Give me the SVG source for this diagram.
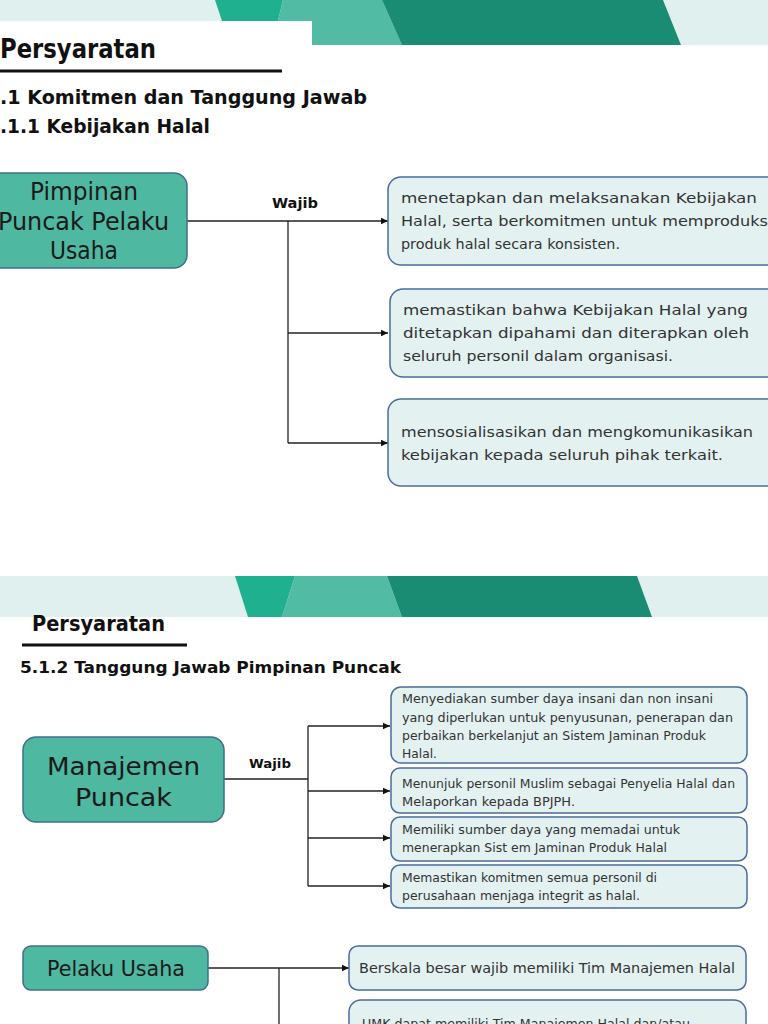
<svg xmlns="http://www.w3.org/2000/svg" width="768" height="1024" viewBox="0 0 768 1024">
<style>
.band{fill:#E0F0EE}
.t1{fill:#1FB08F}
.t2{fill:#52BBA3}
.t3{fill:#1A8C74}
.title{font-family:"DejaVu Sans","Liberation Sans",sans-serif;font-weight:bold;fill:#111}
.node rect{fill:#4EB8A0;stroke:#3F6F8C;stroke-width:1.5}
.node text{font-family:"DejaVu Sans","Liberation Sans",sans-serif;fill:#1a1a1a;text-anchor:start}
.box rect{fill:#E3F1F1;stroke:#4A6C9C;stroke-width:1.5}
.box text{font-family:"DejaVu Sans","Liberation Sans",sans-serif;fill:#333}
.lbl{font-family:"DejaVu Sans","Liberation Sans",sans-serif;font-weight:bold;fill:#111}
.conn path{fill:none;stroke:#222;stroke-width:1.3}
</style>
<defs>
<marker id="ah" markerWidth="8" markerHeight="8" refX="7" refY="4" orient="auto" markerUnits="userSpaceOnUse">
<path d="M0,0.8 L7,4 L0,7.2 Z" fill="#111"/>
</marker>
</defs>
<rect x="0" y="0" width="768" height="1024" fill="#fff"/>

<!-- slide 1 banner -->
<g id="banner1">
<rect class="band" x="0" y="0" width="768" height="45"/>
<polygon class="t1" points="215,0 283,0 272,45 230,45"/>
<polygon class="t2" points="283,0 382,0 402,45 272,45"/>
<polygon class="t3" points="382,0 663,0 681,45 402,45"/>
<rect x="0" y="21" width="312" height="26" fill="#fff"/>
</g>

<g id="heading1">
<text class="title" x="0" y="58" font-size="27" textLength="156" lengthAdjust="spacingAndGlyphs">Persyaratan</text>
<rect x="0" y="69.5" width="282" height="3" fill="#111"/>
<text class="title" x="0" y="104" font-size="19" textLength="367" lengthAdjust="spacingAndGlyphs">.1 Komitmen dan Tanggung Jawab</text>
<text class="title" x="0" y="133" font-size="19" textLength="210" lengthAdjust="spacingAndGlyphs">.1.1 Kebijakan Halal</text>
</g>

<g class="conn" id="connectors1">
<path d="M187,221 H288 M288,221 V443"/>
<path d="M288,221 H388" marker-end="url(#ah)"/>
<path d="M288,333 H388" marker-end="url(#ah)"/>
<path d="M288,443 H388" marker-end="url(#ah)"/>
</g>
<text class="lbl" x="272" y="208" font-size="14" textLength="46" lengthAdjust="spacingAndGlyphs">Wajib</text>

<g class="node" id="pimpinan">
<rect x="-12" y="173" width="199" height="95" rx="13"/>
<text x="30" y="200" font-size="24" textLength="108" lengthAdjust="spacingAndGlyphs">Pimpinan</text>
<text x="-2" y="230" font-size="24" textLength="171" lengthAdjust="spacingAndGlyphs">Puncak Pelaku</text>
<text x="50" y="259" font-size="24" textLength="68" lengthAdjust="spacingAndGlyphs">Usaha</text>
</g>

<g class="box" id="b1">
<rect x="388" y="177" width="400" height="88" rx="13"/>
<text x="401" y="203" font-size="14.5" textLength="356" lengthAdjust="spacingAndGlyphs">menetapkan dan melaksanakan Kebijakan</text>
<text x="401" y="226" font-size="14.5" textLength="367" lengthAdjust="spacingAndGlyphs">Halal, serta berkomitmen untuk memproduks</text>
<text x="401" y="249" font-size="14.5" textLength="219" lengthAdjust="spacingAndGlyphs">produk halal secara konsisten.</text>
</g>

<g class="box" id="b2">
<rect x="390" y="289" width="400" height="88" rx="13"/>
<text x="403" y="315" font-size="14.5" textLength="345" lengthAdjust="spacingAndGlyphs">memastikan bahwa Kebijakan Halal yang</text>
<text x="403" y="338" font-size="14.5" textLength="346" lengthAdjust="spacingAndGlyphs">ditetapkan dipahami dan diterapkan oleh</text>
<text x="403" y="361" font-size="14.5" textLength="270" lengthAdjust="spacingAndGlyphs">seluruh personil dalam organisasi.</text>
</g>

<g class="box" id="b3">
<rect x="388" y="399" width="400" height="87" rx="13"/>
<text x="401" y="437" font-size="14.5" textLength="352" lengthAdjust="spacingAndGlyphs">mensosialisasikan  dan mengkomunikasikan</text>
<text x="401" y="460" font-size="14.5" textLength="322" lengthAdjust="spacingAndGlyphs">kebijakan kepada seluruh pihak terkait.</text>
</g>

<!-- slide 2 banner -->
<g id="banner2">
<rect class="band" x="0" y="576" width="768" height="41"/>
<polygon class="t1" points="235,576 295,576 282,617 248,617"/>
<polygon class="t2" points="295,576 387,576 402,617 282,617"/>
<polygon class="t3" points="387,576 637,576 652,617 402,617"/>
</g>

<g id="heading2">
<text class="title" x="32" y="631" font-size="21" textLength="133" lengthAdjust="spacingAndGlyphs">Persyaratan</text>
<rect x="22" y="643.5" width="165" height="3" fill="#111"/>
<text class="title" x="20" y="673" font-size="16" textLength="381" lengthAdjust="spacingAndGlyphs">5.1.2 Tanggung Jawab Pimpinan Puncak</text>
</g>

<g class="conn" id="connectors2">
<path d="M224,779 H308 M308,726 V886"/>
<path d="M308,726 H390" marker-end="url(#ah)"/>
<path d="M308,791 H390" marker-end="url(#ah)"/>
<path d="M308,838 H390" marker-end="url(#ah)"/>
<path d="M308,886 H390" marker-end="url(#ah)"/>
<path d="M208,968 H349" marker-end="url(#ah)"/>
<path d="M279,968 V1030"/>
</g>
<text class="lbl" x="249" y="768" font-size="13" textLength="42" lengthAdjust="spacingAndGlyphs">Wajib</text>

<g class="node" id="manajemen">
<rect x="23" y="737" width="201" height="85" rx="13"/>
<text x="47" y="775" font-size="25" textLength="153" lengthAdjust="spacingAndGlyphs">Manajemen</text>
<text x="75" y="806" font-size="25" textLength="97" lengthAdjust="spacingAndGlyphs">Puncak</text>
</g>

<g class="box" id="b4">
<rect x="391" y="687" width="356" height="76" rx="10"/>
<text x="402" y="703" font-size="12.5" textLength="311" lengthAdjust="spacingAndGlyphs">Menyediakan sumber daya insani dan non insani</text>
<text x="402" y="722" font-size="12.5" textLength="331" lengthAdjust="spacingAndGlyphs">yang diperlukan untuk penyusunan, penerapan dan</text>
<text x="402" y="740" font-size="12.5" textLength="304" lengthAdjust="spacingAndGlyphs">perbaikan berkelanjut an Sistem Jaminan Produk</text>
<text x="402" y="758" font-size="12.5" textLength="35" lengthAdjust="spacingAndGlyphs">Halal.</text>
</g>

<g class="box" id="b5">
<rect x="391" y="768" width="356" height="45" rx="9"/>
<text x="402" y="788" font-size="12.5" textLength="333" lengthAdjust="spacingAndGlyphs">Menunjuk personil Muslim sebagai Penyelia  Halal dan</text>
<text x="402" y="806" font-size="12.5" textLength="173" lengthAdjust="spacingAndGlyphs">Melaporkan kepada BPJPH.</text>
</g>

<g class="box" id="b6">
<rect x="391" y="817" width="356" height="44" rx="9"/>
<text x="402" y="834" font-size="12.5" textLength="278" lengthAdjust="spacingAndGlyphs">Memiliki sumber daya yang memadai untuk</text>
<text x="402" y="852" font-size="12.5" textLength="265" lengthAdjust="spacingAndGlyphs">menerapkan Sist em Jaminan Produk Halal</text>
</g>

<g class="box" id="b7">
<rect x="391" y="865" width="356" height="43" rx="9"/>
<text x="402" y="882" font-size="12.5" textLength="255" lengthAdjust="spacingAndGlyphs">Memastikan komitmen semua personil di</text>
<text x="402" y="900" font-size="12.5" textLength="238" lengthAdjust="spacingAndGlyphs">perusahaan menjaga integrit as halal.</text>
</g>

<g class="node" id="pelaku">
<rect x="23" y="946" width="185" height="44" rx="8"/>
<text x="47" y="976" font-size="21" textLength="138" lengthAdjust="spacingAndGlyphs">Pelaku Usaha</text>
</g>

<g class="box" id="b8">
<rect x="349" y="946" width="397" height="44" rx="9"/>
<text x="359" y="973" font-size="14" textLength="376" lengthAdjust="spacingAndGlyphs">Berskala besar wajib memiliki Tim Manajemen Halal</text>
</g>

<g class="box" id="b9">
<rect x="349" y="1000" width="397" height="60" rx="12"/>
<text x="362" y="1028" font-size="13" textLength="328" lengthAdjust="spacingAndGlyphs">UMK dapat memiliki Tim Manajemen Halal dan/atau</text>
</g>
</svg>
